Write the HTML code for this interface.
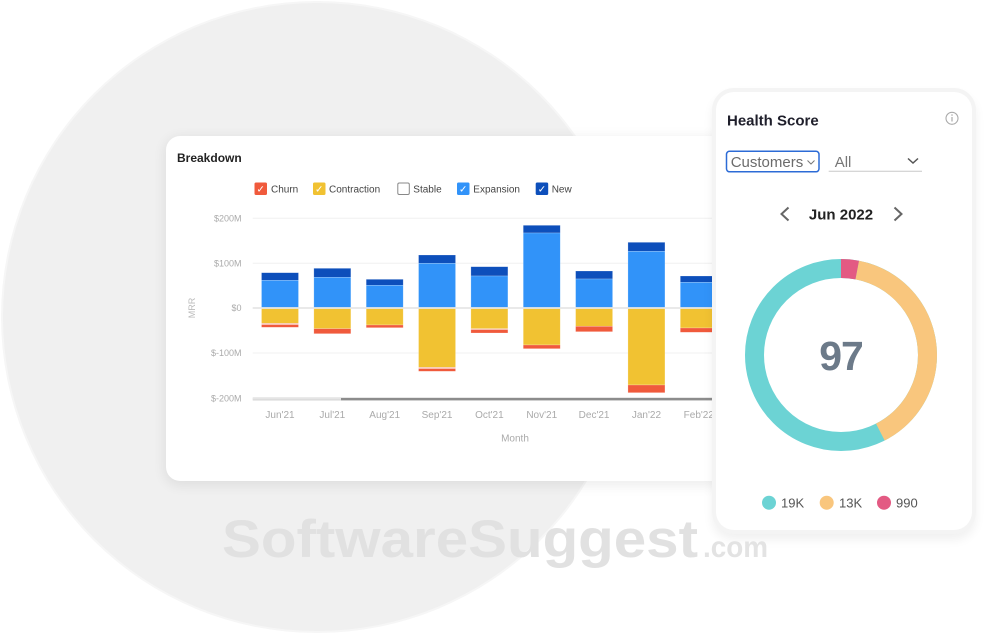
<!DOCTYPE html>
<html><head><meta charset="utf-8">
<style>
html,body{margin:0;padding:0;}
body{width:992px;height:634px;position:relative;overflow:hidden;background:#fff;font-family:"Liberation Sans",sans-serif;}
.abs{position:absolute;}
#circle{left:3px;top:3px;width:628px;height:628px;border-radius:50%;background:#f0f0f0;box-shadow:0 0 0 2px #f6f6f6;}
#card{left:166px;top:136px;width:580px;height:345px;border-radius:14px;background:#fff;overflow:hidden;box-shadow:0 3px 12px 2px rgba(0,0,0,0.07);}
#card svg{position:absolute;left:-166px;top:-136px;}
#hcard{left:716px;top:92px;width:256px;height:438px;border-radius:18px;background:#fff;box-shadow:0 0 0 4px #f4f4f4,0 6px 10px 4px rgba(0,0,0,0.06);}
#over{left:0;top:0;}
</style></head>
<body>
<div id="circle" class="abs"></div>
<div id="card" class="abs">
<svg width="992" height="634" viewBox="0 0 992 634" xmlns="http://www.w3.org/2000/svg" font-family="Liberation Sans, sans-serif">
  <text x="177" y="162" font-size="12" font-weight="bold" fill="#222">Breakdown</text>
  <!-- legend -->
  <g font-size="10" fill="#444">
    <rect x="254.5" y="182.5" width="12.5" height="12.5" rx="1.5" fill="#f05a3c"/>
    <text x="256.5" y="192.5" font-size="10" fill="#fff">✓</text>
    <text x="271" y="192.5">Churn</text>
    <rect x="313" y="182.5" width="12.5" height="12.5" rx="1.5" fill="#f1c232"/>
    <text x="315" y="192.5" font-size="10" fill="#fff">✓</text>
    <text x="329" y="192.5">Contraction</text>
    <rect x="397.8" y="183" width="11.5" height="11.5" rx="1.5" fill="#fff" stroke="#888" stroke-width="1"/>
    <text x="413.3" y="192.5">Stable</text>
    <rect x="457" y="182.5" width="12.5" height="12.5" rx="1.5" fill="#3193f9"/>
    <text x="459" y="192.5" font-size="10" fill="#fff">✓</text>
    <text x="473.3" y="192.5">Expansion</text>
    <rect x="535.7" y="182.5" width="12.5" height="12.5" rx="1.5" fill="#0d4fbb"/>
    <text x="537.7" y="192.5" font-size="10" fill="#fff">✓</text>
    <text x="551.7" y="192.5">New</text>
  </g>
  <!-- grid -->
  <g stroke="#f0f0f0" stroke-width="1">
    <line x1="252.7" y1="218.3" x2="746" y2="218.3"/>
    <line x1="252.7" y1="263.3" x2="746" y2="263.3"/>
    <line x1="252.7" y1="353" x2="746" y2="353"/>
  </g>
  <g font-size="9" fill="#aaa" text-anchor="end">
    <text x="241.5" y="221.5">$200M</text>
    <text x="241.5" y="266.5">$100M</text>
    <text x="241.5" y="311">$0</text>
    <text x="241.5" y="356">$-100M</text>
    <text x="241.5" y="401.5">$-200M</text>
  </g>
  <text transform="translate(195,308) rotate(-90)" font-size="9" fill="#bbb" text-anchor="middle">MRR</text>
  <!-- bars -->
  <g stroke="rgba(255,255,255,0.35)" stroke-width="0.6">
    <rect x="261.5" y="272.7" width="37" height="7.6" fill="#0d4fbb"/>
    <rect x="261.5" y="280.3" width="37" height="27.7" fill="#3193f9"/>
    <rect x="261.5" y="308" width="37" height="15.3" fill="#f1c232"/>
    <rect x="261.5" y="323.3" width="37" height="1.4" fill="#f7b9a5"/>
    <rect x="261.5" y="324.7" width="37" height="2.6" fill="#f05a3c"/>
    <rect x="313.85" y="268.3" width="37" height="9" fill="#0d4fbb"/>
    <rect x="313.85" y="277.3" width="37" height="30.7" fill="#3193f9"/>
    <rect x="313.85" y="308" width="37" height="20.7" fill="#f1c232"/>
    <rect x="313.85" y="328.7" width="37" height="5" fill="#f05a3c"/>
    <rect x="366.2" y="279.3" width="37" height="6" fill="#0d4fbb"/>
    <rect x="366.2" y="285.3" width="37" height="22.7" fill="#3193f9"/>
    <rect x="366.2" y="308" width="37" height="17" fill="#f1c232"/>
    <rect x="366.2" y="325" width="37" height="2.7" fill="#f05a3c"/>
    <rect x="418.55" y="255" width="37" height="8.3" fill="#0d4fbb"/>
    <rect x="418.55" y="263.3" width="37" height="44.7" fill="#3193f9"/>
    <rect x="418.55" y="308" width="37" height="59.3" fill="#f1c232"/>
    <rect x="418.55" y="367.3" width="37" height="1.4" fill="#f7b9a5"/>
    <rect x="418.55" y="368.7" width="37" height="2.6" fill="#f05a3c"/>
    <rect x="470.9" y="266.7" width="37" height="9.3" fill="#0d4fbb"/>
    <rect x="470.9" y="276" width="37" height="32" fill="#3193f9"/>
    <rect x="470.9" y="308" width="37" height="20.7" fill="#f1c232"/>
    <rect x="470.9" y="328.7" width="37" height="1" fill="#f7b9a5"/>
    <rect x="470.9" y="329.7" width="37" height="3.3" fill="#f05a3c"/>
    <rect x="523.25" y="225.3" width="37" height="7.7" fill="#0d4fbb"/>
    <rect x="523.25" y="233" width="37" height="75" fill="#3193f9"/>
    <rect x="523.25" y="308" width="37" height="37" fill="#f1c232"/>
    <rect x="523.25" y="345" width="37" height="3.7" fill="#f05a3c"/>
    <rect x="575.6" y="271" width="37" height="8" fill="#0d4fbb"/>
    <rect x="575.6" y="279" width="37" height="29" fill="#3193f9"/>
    <rect x="575.6" y="308" width="37" height="18.3" fill="#f1c232"/>
    <rect x="575.6" y="326.3" width="37" height="5.4" fill="#f05a3c"/>
    <rect x="627.95" y="242.3" width="37" height="9" fill="#0d4fbb"/>
    <rect x="627.95" y="251.3" width="37" height="56.7" fill="#3193f9"/>
    <rect x="627.95" y="308" width="37" height="77" fill="#f1c232"/>
    <rect x="627.95" y="385" width="37" height="7.7" fill="#f05a3c"/>
    <rect x="680.3" y="276" width="37" height="6.3" fill="#0d4fbb"/>
    <rect x="680.3" y="282.3" width="37" height="25.7" fill="#3193f9"/>
    <rect x="680.3" y="308" width="37" height="20" fill="#f1c232"/>
    <rect x="680.3" y="328" width="37" height="4.3" fill="#f05a3c"/>
  </g>
  <line x1="252.7" y1="308" x2="746" y2="308" stroke="#e6e6e6" stroke-width="1.8"/>
  <!-- scrollbar -->
  <rect x="252.7" y="397.5" width="88.3" height="3" fill="#d6d6d6"/>
  <rect x="252.7" y="398.3" width="88.3" height="1" fill="#ececec"/>
  <rect x="341" y="397.8" width="405" height="2.6" fill="#8c8c8c"/>
  <!-- x labels -->
  <g font-size="10" fill="#aaa" text-anchor="middle">
    <text x="280" y="418">Jun'21</text>
    <text x="332.35" y="418">Jul'21</text>
    <text x="384.7" y="418">Aug'21</text>
    <text x="437.05" y="418">Sep'21</text>
    <text x="489.4" y="418">Oct'21</text>
    <text x="541.75" y="418">Nov'21</text>
    <text x="594.1" y="418">Dec'21</text>
    <text x="646.45" y="418">Jan'22</text>
    <text x="698.8" y="418">Feb'22</text>
  </g>
  <text x="515" y="441.5" font-size="10" fill="#aaa" text-anchor="middle">Month</text>
</svg>
</div>
<div id="hcard" class="abs"></div>
<svg id="over" class="abs" width="992" height="634" viewBox="0 0 992 634" xmlns="http://www.w3.org/2000/svg" font-family="Liberation Sans, sans-serif">
  <text x="727" y="125.5" font-size="15" font-weight="bold" fill="#1f1f2b">Health Score</text>
  <circle cx="952" cy="118.3" r="6" fill="none" stroke="#aaa" stroke-width="1.1"/>
  <line x1="952" y1="117" x2="952" y2="121.5" stroke="#aaa" stroke-width="1.2"/>
  <circle cx="952" cy="115" r="0.8" fill="#aaa"/>
  <rect x="726.5" y="151.3" width="92.5" height="20.5" rx="3" fill="#fff" stroke="#2c6bd6" stroke-width="1.5"/>
  <text x="730.7" y="167" font-size="15" fill="#6b6b6b">Customers</text>
  <polyline points="807.5,160.5 811,164 814.5,160.5" fill="none" stroke="#777" stroke-width="1"/>
  <text x="834.7" y="167" font-size="15" fill="#777">All</text>
  <line x1="828.7" y1="171.3" x2="922" y2="171.3" stroke="#c8c8c8" stroke-width="1"/>
  <polyline points="908,158.5 913,163 918,158.5" fill="none" stroke="#555" stroke-width="1.5"/>
  <polyline points="788.5,207.5 781.5,214 788.5,220.5" fill="none" stroke="#666" stroke-width="2"/>
  <text x="841" y="219.5" font-size="15" font-weight="bold" fill="#222" text-anchor="middle">Jun 2022</text>
  <polyline points="894.5,207.5 901.5,214 894.5,220.5" fill="none" stroke="#666" stroke-width="2"/>
  <g transform="rotate(-90 841 355)">
    <circle cx="841" cy="355" r="86.5" fill="none" stroke="#6cd3d4" stroke-width="19"/>
    <circle cx="841" cy="355" r="86.5" fill="none" stroke="#f9c67d" stroke-width="19" stroke-dasharray="0 16.3 214.5 1000"/>
    <circle cx="841" cy="355" r="86.5" fill="none" stroke="#e35a83" stroke-width="19" stroke-dasharray="16.3 1000"/>
  </g>
  <text x="841" y="370" font-size="41" font-weight="bold" fill="#6c7a89" text-anchor="middle" letter-spacing="-1">97</text>
  <circle cx="769" cy="502.7" r="7" fill="#6cd3d4"/>
  <text x="781" y="507.5" font-size="13" fill="#555">19K</text>
  <circle cx="826.7" cy="502.7" r="7" fill="#f9c67d"/>
  <text x="839" y="507.5" font-size="13" fill="#555">13K</text>
  <circle cx="884" cy="502.7" r="7" fill="#e35a83"/>
  <text x="896" y="507.5" font-size="13" fill="#555">990</text>
  <text x="222" y="557" font-size="53" font-weight="bold" fill="#e1e1e1" textLength="476" lengthAdjust="spacingAndGlyphs">SoftwareSuggest</text>
  <text x="703" y="557" font-size="30" font-weight="bold" fill="#e3e3e3" textLength="65" lengthAdjust="spacingAndGlyphs">.com</text>
</svg>
</body></html>
